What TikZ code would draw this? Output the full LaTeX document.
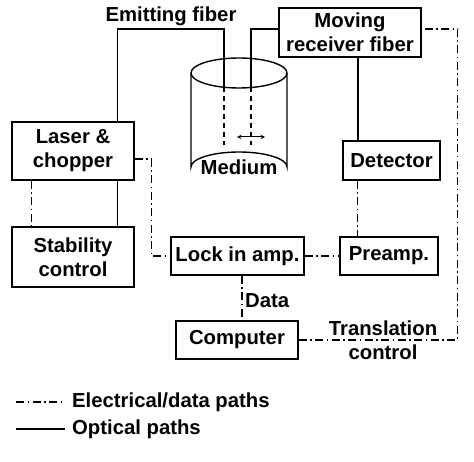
\documentclass[tikz,border=0pt]{standalone}
\usepackage{fontspec}
\setmainfont{Liberation Sans}
\usetikzlibrary{calc}
\begin{document}
\begin{tikzpicture}[x=1pt,y=-1pt,
  lbl/.style={font=\fontsize{20.3}{24}\selectfont\bfseries, inner sep=0pt, align=center},
  box/.style={lbl, draw, line width=1.4pt, anchor=center},
  optical/.style={line width=1.5pt},
  elec/.style={line width=1.4pt, dash pattern=on 8pt off 3.5pt on 1.5pt off 3.5pt},
  hidden/.style={line width=1.3pt, dash pattern=on 5pt off 4pt}]
\useasboundingbox (0,0) rectangle (474,462);
% boxes
\node[box, minimum width=142pt, minimum height=49pt] (mrf) at (350,32.5) {Moving\\receiver fiber};
\node[box, minimum width=122pt, minimum height=58pt] (laser) at (73,151) {Laser \&\\chopper};
\node[box, minimum width=122pt, minimum height=60pt] (stab) at (73,257) {Stability\\control};
\node[box, minimum width=97pt, minimum height=39pt] (det) at (391.5,160.5) {Detector};
\node[box, minimum width=133pt, minimum height=38pt] (lock) at (237.5,256) {Lock in amp.};
\node[box, minimum width=98pt, minimum height=38pt] (pre) at (389,256) {Preamp.};
\node[box, minimum width=122pt, minimum height=38pt] (comp) at (237,340) {Computer};
% labels
\node[lbl] (eftxt) at (171,16) {Emitting fiber};
\node[lbl] (medtxt) at (239,167) {Medium};
\node[lbl] (tctxt) at (383,340) {Translation\\control};
\node[lbl, anchor=west] (datatxt) at (245,301) {Data};
% cylinder
\draw[line width=1.4pt] (239,73) ellipse [x radius=48, y radius=15];
\draw[line width=1.4pt] (191,73) -- (191,167) arc[start angle=180, end angle=360, x radius=48, y radius=15] -- (287,73);
% fibers
\coordinate (ef1) at (224,29);
\coordinate (efin) at (224,87);
\coordinate (efend) at (224,145);
\coordinate (rf1) at (251,29);
\coordinate (rfin) at (251,87);
\coordinate (rfend) at (251,145);
\draw[optical] ([xshift=-17pt]laser.north east) |- (ef1) -- (efin);
\draw[hidden] (efin) -- (efend);
\draw[optical] (mrf.west |- rf1) -- (rf1) -- (rfin);
\draw[hidden] (rfin) -- (rfend);
\coordinate (arL) at (237,137);
\coordinate (arR) at (265,137);
\draw[line width=1pt, <->, >=stealth] (arL) -- (arR);
% optical connectors
\draw[optical] ([xshift=8pt]mrf.south) -- ([xshift=8pt]mrf.south |- det.north);
\draw[optical] ([xshift=-17pt]laser.south east) -- ([xshift=-17pt]stab.north east);
% electrical
\draw[elec] ([xshift=20pt]laser.south west) -- ([xshift=20pt]stab.north west);
\draw[elec] ([yshift=-8pt]laser.east) -| ($(lock.west)+(-19,0)$) -- (lock.west);
\draw[elec] (lock.east) -- (pre.west);
\draw[elec] ([xshift=15pt]det.south west) -- ([xshift=15pt]det.south west |- pre.north);
\draw[elec] ([xshift=4.5pt]lock.south) -- ([xshift=4.5pt]lock.south |- comp.north);
\draw[elec] (comp.east) -- ++(159,0) |- (mrf.east |- rf1);
% legend
\coordinate (l1a) at (16,402); \coordinate (l1b) at (65,402);
\coordinate (l2a) at (16,429); \coordinate (l2b) at (65,429);
\draw[elec] (l1a) -- (l1b);
\draw[optical] (l2a) -- (l2b);
\node[lbl, anchor=west] (leg1) at (72,402) {Electrical/data paths};
\node[lbl, anchor=west] (leg2) at (72,429) {Optical paths};
\end{tikzpicture}
\end{document}
